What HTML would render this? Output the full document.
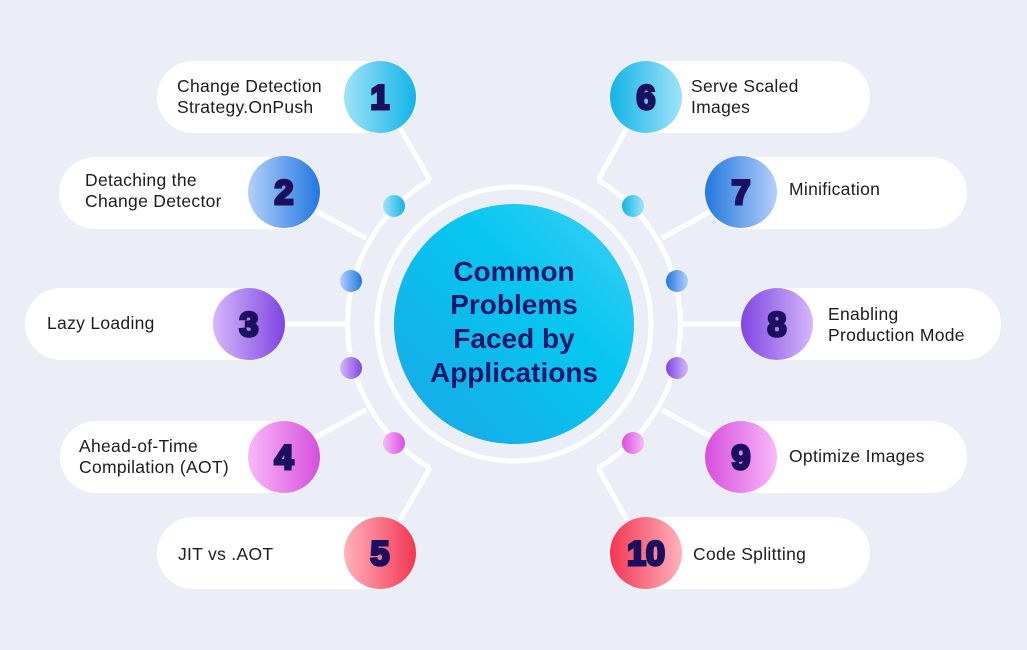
<!DOCTYPE html>
<html><head><meta charset="utf-8"><style>
html,body{margin:0;padding:0;background:#eceef7;}
svg{display:block}
.t{font-family:"Liberation Sans",sans-serif;font-size:17.5px;fill:#1c1c24;letter-spacing:0.3px}
.n{font-family:"Liberation Sans",sans-serif;font-weight:bold;font-size:34px;fill:#1b0f5e;stroke:#1b0f5e;stroke-width:3;text-anchor:middle}
.c{font-family:"Liberation Sans",sans-serif;font-weight:bold;font-size:28px;fill:#16176a;text-anchor:middle}
</style></head><body>
<svg width="1027" height="650" viewBox="0 0 1027 650">
<defs>
<linearGradient id="g1" x1="0" x2="1"><stop offset="0" stop-color="#9fe3f9"/><stop offset="1" stop-color="#12b4e6"/></linearGradient>
<linearGradient id="g2" x1="0" x2="1"><stop offset="0" stop-color="#b3d0fb"/><stop offset="1" stop-color="#2277de"/></linearGradient>
<linearGradient id="g3" x1="0" x2="1"><stop offset="0" stop-color="#d4b8fa"/><stop offset="1" stop-color="#7f45e2"/></linearGradient>
<linearGradient id="g4" x1="0" x2="1"><stop offset="0" stop-color="#fab8fa"/><stop offset="1" stop-color="#d54fdd"/></linearGradient>
<linearGradient id="g5" x1="0" x2="1"><stop offset="0" stop-color="#ffb3bb"/><stop offset="1" stop-color="#f23653"/></linearGradient>
<linearGradient id="h1" x1="1" x2="0"><stop offset="0" stop-color="#9fe3f9"/><stop offset="1" stop-color="#12b4e6"/></linearGradient>
<linearGradient id="h2" x1="1" x2="0"><stop offset="0" stop-color="#b3d0fb"/><stop offset="1" stop-color="#2277de"/></linearGradient>
<linearGradient id="h3" x1="1" x2="0"><stop offset="0" stop-color="#d4b8fa"/><stop offset="1" stop-color="#7f45e2"/></linearGradient>
<linearGradient id="h4" x1="1" x2="0"><stop offset="0" stop-color="#fab8fa"/><stop offset="1" stop-color="#d54fdd"/></linearGradient>
<linearGradient id="h5" x1="1" x2="0"><stop offset="0" stop-color="#ffb3bb"/><stop offset="1" stop-color="#f23653"/></linearGradient>
<linearGradient id="gc" x1="0" y1="1" x2="1" y2="0"><stop offset="0" stop-color="#1aa6e6"/><stop offset="0.6" stop-color="#06c6f0"/><stop offset="1" stop-color="#3fd0f5"/></linearGradient>
</defs>
<g stroke="#fff" stroke-width="5" fill="none" stroke-linejoin="miter">
<circle cx="514" cy="324" r="137"/>
<path d="M430,180 A167,167 0 0 0 430,468"/>
<path d="M598,180 A167,167 0 0 1 598,468"/>
<polyline points="400,128 430,180"/>
<line x1="310" y1="208" x2="366" y2="238"/>
<line x1="284" y1="324" x2="347" y2="324"/>
<line x1="310" y1="440" x2="366" y2="410"/>
<polyline points="400,520 430,468"/>
<polyline points="627,128 598,180"/>
<line x1="717" y1="208" x2="662" y2="238"/>
<line x1="742" y1="324" x2="681" y2="324"/>
<line x1="717" y1="440" x2="662" y2="410"/>
<polyline points="627,520 598,468"/>
</g>
<circle cx="514" cy="324" r="120" fill="url(#gc)"/>
<text class="c" x="514" y="281">Common</text>
<text class="c" x="514" y="314">Problems</text>
<text class="c" x="514" y="348">Faced by</text>
<text class="c" x="514" y="382">Applications</text>
<circle cx="394" cy="206" r="11" fill="url(#g1)"/>
<circle cx="351" cy="281" r="11" fill="url(#g2)"/>
<circle cx="351" cy="368" r="11" fill="url(#g3)"/>
<circle cx="394" cy="443" r="11" fill="url(#g4)"/>
<circle cx="633" cy="206" r="11" fill="url(#h1)"/>
<circle cx="677" cy="281" r="11" fill="url(#h2)"/>
<circle cx="677" cy="368" r="11" fill="url(#h3)"/>
<circle cx="633" cy="443" r="11" fill="url(#h4)"/>
<g fill="#fff">
<rect x="157" y="61" width="258" height="72" rx="36"/>
<rect x="59" y="157" width="261" height="72" rx="36"/>
<rect x="25" y="288" width="260" height="72" rx="36"/>
<rect x="60" y="421" width="260" height="72" rx="36"/>
<rect x="157" y="517" width="258" height="72" rx="36"/>
<rect x="610" y="61" width="260" height="72" rx="36"/>
<rect x="705" y="157" width="262" height="72" rx="36"/>
<rect x="741" y="288" width="260" height="72" rx="36"/>
<rect x="705" y="421" width="262" height="72" rx="36"/>
<rect x="610" y="517" width="260" height="72" rx="36"/>
</g>
<circle cx="380" cy="97" r="36" fill="url(#g1)"/>
<circle cx="284" cy="192" r="36" fill="url(#g2)"/>
<circle cx="249" cy="324" r="36" fill="url(#g3)"/>
<circle cx="284" cy="457" r="36" fill="url(#g4)"/>
<circle cx="380" cy="553" r="36" fill="url(#g5)"/>
<circle cx="646" cy="97" r="36" fill="url(#h1)"/>
<circle cx="741" cy="192" r="36" fill="url(#h2)"/>
<circle cx="777" cy="324" r="36" fill="url(#h3)"/>
<circle cx="741" cy="457" r="36" fill="url(#h4)"/>
<circle cx="646" cy="553" r="36" fill="url(#h5)"/>
<text class="n" x="380" y="109">1</text>
<text class="n" x="284" y="204">2</text>
<text class="n" x="249" y="336">3</text>
<text class="n" x="284" y="469">4</text>
<text class="n" x="380" y="565">5</text>
<text class="n" x="646" y="109">6</text>
<text class="n" x="741" y="204">7</text>
<text class="n" x="777" y="336">8</text>
<text class="n" x="741" y="469">9</text>
<text class="n" x="646" y="565">10</text>
<text class="t" x="177" y="92">Change Detection</text>
<text class="t" x="177" y="113">Strategy.OnPush</text>
<text class="t" x="85" y="186">Detaching the</text>
<text class="t" x="85" y="207">Change Detector</text>
<text class="t" x="47" y="329">Lazy Loading</text>
<text class="t" x="79" y="452">Ahead-of-Time</text>
<text class="t" x="79" y="473">Compilation (AOT)</text>
<text class="t" x="178" y="560">JIT vs .AOT</text>
<text class="t" x="691" y="92">Serve Scaled</text>
<text class="t" x="691" y="113">Images</text>
<text class="t" x="789" y="195">Minification</text>
<text class="t" x="828" y="320">Enabling</text>
<text class="t" x="828" y="341">Production Mode</text>
<text class="t" x="789" y="462">Optimize Images</text>
<text class="t" x="693" y="560">Code Splitting</text>
</svg>
</body></html>
